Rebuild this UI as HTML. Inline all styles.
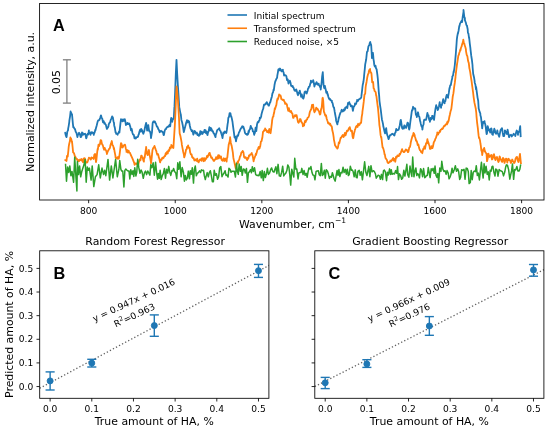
<!DOCTYPE html>
<html><head><meta charset="utf-8"><style>html,body{margin:0;padding:0;background:#fff;}svg{display:block;}</style></head>
<body><svg width="550" height="430" viewBox="0 0 550 430"><rect width="100%" height="100%" fill="#fff"/><polyline points="65.20,133.06 65.20,132.70 65.90,135.93 66.50,137.10 66.60,136.94 67.30,131.64 68.00,130.37 68.20,128.40 68.70,125.87 69.30,121.80 69.40,120.44 70.10,116.07 70.60,111.50 70.80,112.27 71.50,113.54 72.00,114.20 72.20,116.25 72.90,123.84 73.30,127.30 73.60,126.87 74.30,128.27 74.70,128.90 75.00,129.06 75.70,131.76 76.40,132.70 76.40,132.74 77.10,135.47 77.40,137.10 77.80,135.24 78.50,133.98 79.10,132.70 79.20,132.91 79.90,134.06 80.60,137.15 80.70,136.00 81.30,136.76 82.00,132.50 82.70,133.02 82.90,134.90 83.40,134.47 84.10,133.86 84.80,134.17 85.10,133.80 85.50,134.85 86.20,138.29 86.70,137.10 86.90,135.33 87.60,134.00 88.30,134.44 88.90,130.50 89.00,131.45 89.70,133.40 90.40,134.09 90.50,134.90 91.10,132.22 91.80,133.01 92.20,132.20 92.50,132.82 93.20,132.60 93.80,134.90 93.90,133.91 94.60,132.62 95.30,129.78 95.40,130.50 96.00,128.02 96.70,125.46 97.40,122.63 97.60,121.80 98.10,120.44 98.80,120.42 99.50,119.57 100.20,117.80 100.90,115.44 101.20,115.80 101.60,117.83 102.30,118.75 103.00,122.41 103.10,121.80 103.70,121.09 104.40,123.65 104.70,122.90 105.10,123.97 105.80,124.59 106.50,127.48 106.90,128.90 107.20,128.45 107.90,127.50 108.50,126.20 108.60,124.91 109.30,122.97 110.00,122.53 110.20,121.80 110.70,119.89 111.40,118.64 112.10,116.40 112.10,117.20 112.80,117.06 113.50,121.46 114.00,122.90 114.20,125.41 114.90,128.10 115.60,132.70 115.60,131.85 116.30,133.84 117.00,133.67 117.70,134.69 117.80,133.80 118.40,133.03 119.10,131.35 119.40,132.70 119.80,129.18 120.50,122.88 121.00,119.10 121.20,120.19 121.90,120.54 122.60,121.30 122.60,119.59 123.30,119.35 124.00,120.83 124.70,119.91 124.80,119.10 125.40,121.70 125.90,125.10 126.10,124.82 126.80,124.33 127.50,122.90 127.50,123.39 128.20,124.03 128.90,123.58 129.20,123.40 129.60,124.59 130.30,126.68 131.00,130.32 131.40,130.50 131.70,128.86 132.40,132.76 133.10,134.63 133.80,134.78 134.50,138.31 134.60,138.20 135.20,137.22 135.90,138.46 136.60,137.07 136.80,137.10 137.30,137.12 138.00,136.73 138.40,134.90 138.70,134.66 139.40,131.84 140.10,129.67 140.80,131.60 141.20,128.90 141.50,129.45 142.20,130.40 142.90,132.84 143.40,133.80 143.60,132.79 144.30,131.06 145.00,127.38 145.70,124.53 146.10,122.90 146.40,124.22 147.10,130.30 147.20,130.50 147.80,126.47 148.30,125.10 148.50,126.77 149.20,131.07 149.90,131.26 150.60,133.67 151.00,138.20 151.30,136.19 152.00,132.00 152.60,124.00 152.70,122.79 153.40,121.42 154.10,122.24 154.30,121.30 154.80,121.32 155.50,122.94 156.20,124.37 156.40,125.10 156.90,126.64 157.60,127.02 158.30,129.11 158.60,129.40 159.00,130.23 159.70,132.20 159.70,131.31 160.40,131.67 161.10,130.82 161.80,131.63 161.90,131.60 162.50,131.66 163.20,133.13 163.50,134.90 163.90,135.14 164.60,131.29 165.20,129.40 165.30,129.24 166.00,129.14 166.70,127.46 167.40,126.96 168.10,126.95 168.40,126.20 168.80,126.50 169.50,124.98 170.10,126.20 170.20,126.33 170.90,119.62 171.20,118.00 171.60,118.27 172.30,121.80 172.30,120.85 173.00,119.03 173.70,118.78 173.90,116.40 174.40,106.83 174.50,106.40 175.10,92.62 175.80,73.93 176.50,59.90 176.50,59.90 177.20,74.14 177.80,84.60 177.90,85.91 178.60,96.40 179.20,106.40 179.30,107.14 180.00,111.09 180.70,114.50 180.80,114.30 181.40,119.93 182.10,122.23 182.80,125.54 183.50,130.19 183.80,132.10 184.20,130.44 184.90,127.86 185.60,124.94 186.30,122.20 186.30,122.38 187.00,120.15 187.70,122.49 188.40,120.72 188.70,121.20 189.10,121.29 189.80,125.50 190.50,128.52 191.20,129.97 191.70,131.10 191.90,131.34 192.60,130.43 193.30,134.67 194.00,132.82 194.60,132.10 194.70,131.00 195.40,132.05 196.10,133.64 196.80,132.59 197.50,135.08 197.60,135.00 198.20,134.32 198.90,135.85 199.60,135.34 200.30,131.25 200.60,134.00 201.00,133.78 201.70,131.58 202.40,133.99 203.10,132.54 203.50,132.10 203.80,132.38 204.50,129.98 205.20,132.32 205.50,130.10 205.90,133.20 206.60,131.68 207.30,134.90 207.50,135.00 208.00,132.57 208.70,130.84 209.40,127.12 209.50,128.10 210.10,130.43 210.80,127.89 211.50,129.03 211.60,129.40 212.20,131.09 212.90,131.24 213.30,132.70 213.60,133.05 214.30,134.11 215.00,135.96 215.50,137.10 215.70,135.05 216.40,132.93 217.10,130.50 217.10,130.28 217.80,129.48 218.50,129.22 219.20,128.19 219.30,128.40 219.90,130.62 220.60,131.15 220.90,132.20 221.30,133.56 222.00,135.63 222.50,138.20 222.70,136.65 223.40,132.37 223.60,132.70 224.10,133.24 224.80,131.50 225.50,131.92 226.20,133.08 226.40,132.70 226.90,129.72 227.60,124.10 228.00,121.80 228.30,118.05 229.00,116.80 229.60,113.10 229.70,113.57 230.40,113.17 231.10,116.82 231.30,116.40 231.80,118.38 232.50,121.74 232.90,125.10 233.20,127.45 233.90,132.41 234.50,137.10 234.60,137.47 235.30,136.68 236.00,141.39 236.20,139.80 236.70,137.98 237.40,135.33 237.80,136.00 238.10,135.82 238.80,132.88 239.40,131.60 239.50,131.75 240.20,129.68 240.90,128.61 241.60,127.30 241.60,127.56 242.30,126.27 243.00,127.52 243.30,126.70 243.70,127.71 244.40,129.91 244.90,132.70 245.10,132.98 245.80,134.07 246.50,134.06 247.10,134.90 247.20,133.86 247.90,134.45 248.60,130.99 248.70,132.70 249.30,129.98 250.00,129.20 250.70,125.82 250.90,126.70 251.40,127.57 252.10,128.67 252.50,129.40 252.80,131.31 253.50,131.67 254.20,134.90 254.20,134.24 254.90,132.88 255.60,127.59 256.30,127.80 256.30,131.06 257.00,124.60 257.70,122.09 258.00,121.80 258.40,122.30 259.10,120.66 259.60,120.20 259.80,117.76 260.50,118.26 261.20,116.49 261.30,115.30 261.90,112.63 262.60,110.24 263.30,108.48 263.40,107.60 264.00,104.58 264.30,104.50 264.70,104.78 265.40,104.21 266.10,102.97 266.70,103.40 266.80,102.07 267.50,104.25 268.20,104.51 268.40,105.70 268.90,105.72 269.60,103.38 270.10,102.20 270.30,102.38 271.00,99.44 271.70,97.32 271.90,96.40 272.40,93.52 273.10,92.16 273.60,89.40 273.80,90.37 274.50,85.02 275.20,81.58 275.40,81.30 275.90,80.10 276.60,78.32 277.10,77.80 277.30,75.71 278.00,71.87 278.30,69.70 278.70,69.11 279.40,70.43 280.00,68.50 280.10,68.63 280.80,69.86 281.50,71.42 281.80,70.80 282.20,70.08 282.90,69.70 282.90,71.21 283.60,72.42 284.10,75.50 284.30,74.65 285.00,75.12 285.70,75.38 285.80,75.50 286.40,76.33 287.00,80.10 287.10,80.20 287.80,79.43 288.50,83.59 288.70,82.40 289.20,81.86 289.90,81.30 289.90,80.63 290.60,83.03 291.10,85.90 291.30,85.64 292.00,86.30 292.70,85.93 292.80,87.10 293.40,87.30 294.10,89.43 294.60,90.60 294.80,89.91 295.50,90.95 296.20,90.67 296.30,89.40 296.90,91.46 297.60,94.33 298.00,95.20 298.30,93.03 299.00,93.31 299.70,90.82 299.80,90.60 300.40,93.16 301.10,96.72 301.50,96.40 301.80,94.39 302.50,97.95 303.20,97.42 303.30,98.70 303.90,96.85 304.60,91.97 305.00,91.70 305.30,91.38 306.00,92.58 306.70,93.48 306.80,92.90 307.40,91.36 308.10,88.55 308.50,88.30 308.80,86.95 309.50,86.66 310.20,83.93 310.80,82.40 310.90,80.54 311.60,82.52 312.30,81.40 313.00,81.21 313.20,80.10 313.70,82.38 314.30,85.90 314.40,86.62 315.10,83.62 315.80,84.31 316.50,82.18 316.70,82.40 317.20,83.63 317.90,84.71 318.60,83.61 319.00,84.80 319.30,85.36 320.00,86.90 320.70,88.30 320.70,89.55 321.40,83.90 321.40,84.65 322.10,76.72 322.80,72.10 322.80,72.58 323.50,83.90 323.50,84.68 324.20,88.00 324.90,85.87 325.60,89.50 325.60,88.94 326.30,92.77 327.00,91.81 327.70,95.10 327.70,93.84 328.40,97.04 329.10,98.97 329.80,99.30 329.80,98.60 330.50,100.33 331.20,100.36 331.90,100.70 331.90,102.29 332.60,103.15 333.30,106.64 333.90,107.70 334.00,107.28 334.70,111.73 335.40,115.53 336.00,118.80 336.10,120.40 336.80,122.61 337.40,124.40 337.50,123.11 338.20,121.12 338.80,117.40 338.90,117.94 339.60,115.15 340.30,113.13 340.90,111.80 341.00,111.56 341.70,109.75 342.40,111.50 343.00,111.10 343.10,111.25 343.80,109.43 344.50,110.45 345.10,109.10 345.20,107.53 345.90,107.45 346.60,106.60 347.20,106.30 347.30,108.19 348.00,103.02 348.70,103.89 349.30,102.10 349.40,103.29 350.10,104.10 350.80,106.34 351.40,106.30 351.50,105.54 352.20,106.25 352.80,110.40 352.90,110.94 353.60,107.05 354.30,106.13 354.90,104.90 355.00,103.46 355.70,104.40 356.40,102.81 357.00,100.70 357.10,99.88 357.80,101.12 358.50,99.83 359.10,99.30 359.20,99.08 359.90,98.80 360.60,98.04 361.10,97.90 361.30,96.95 362.00,91.03 362.50,86.70 362.70,85.07 363.40,82.06 364.00,77.20 364.10,75.49 364.80,68.97 365.20,64.40 365.50,62.82 366.20,59.22 366.90,52.42 367.10,51.60 367.60,51.47 368.30,47.08 368.40,46.50 369.00,45.43 369.30,45.20 369.70,43.21 370.30,42.00 370.40,42.97 371.10,44.90 371.20,45.20 371.80,55.01 371.90,58.00 372.50,53.76 372.90,52.90 373.20,55.52 373.50,59.30 373.90,61.50 374.20,64.40 374.60,65.94 375.30,66.94 375.50,65.70 376.00,68.20 376.70,69.50 376.70,69.88 377.40,74.78 377.80,78.50 378.10,82.35 378.80,92.07 379.20,96.20 379.50,101.12 380.20,106.09 380.60,108.70 380.90,110.81 381.60,116.74 382.00,119.90 382.30,120.87 383.00,124.01 383.40,126.80 383.70,127.81 384.40,131.01 384.80,132.40 385.10,133.43 385.80,129.45 386.20,128.20 386.50,131.10 387.20,134.96 387.90,136.61 388.20,138.00 388.60,139.15 389.30,137.28 390.00,135.16 390.30,135.20 390.70,135.21 391.40,134.49 392.10,133.76 392.40,133.80 392.80,133.86 393.50,134.68 394.20,135.46 394.50,135.20 394.90,133.20 395.60,132.26 396.30,128.80 396.60,129.60 397.00,129.87 397.70,130.25 398.40,129.77 398.70,129.60 399.10,128.05 399.80,125.14 400.50,120.59 400.80,119.90 401.20,122.02 401.90,126.96 402.20,128.20 402.60,128.72 403.30,127.15 404.00,128.48 404.30,125.40 404.70,125.57 405.40,127.18 406.10,127.93 406.40,126.80 406.80,125.49 407.50,122.72 407.80,122.70 408.20,123.43 408.90,128.29 409.20,129.60 409.60,127.99 410.30,122.26 410.60,119.90 411.00,117.28 411.70,111.80 412.00,110.10 412.40,110.29 413.10,106.76 413.80,108.54 414.10,108.00 414.50,108.68 415.20,108.34 415.40,110.10 415.90,114.88 416.60,114.64 416.80,117.10 417.30,114.47 418.00,112.24 418.20,112.90 418.70,116.07 419.40,116.77 420.10,121.20 420.30,121.30 420.80,123.89 421.50,126.32 422.20,127.44 422.40,129.60 422.90,125.99 423.60,124.24 423.80,121.30 424.30,119.61 425.00,119.63 425.70,119.86 425.90,119.90 426.40,118.45 427.10,114.64 427.40,113.00 427.80,115.04 428.50,115.35 428.70,117.10 429.20,119.80 429.90,121.20 429.90,121.80 430.60,117.81 431.30,119.38 432.00,118.45 432.10,115.80 432.70,115.79 433.40,117.59 434.10,119.93 434.20,118.60 434.80,113.44 435.50,108.71 436.20,105.24 436.30,106.00 436.90,107.20 437.60,109.29 437.70,110.20 438.30,108.84 439.00,106.15 439.70,102.22 439.80,103.20 440.40,105.00 441.10,107.77 441.20,106.00 441.80,105.19 442.50,102.56 443.20,99.10 443.20,99.12 443.90,102.18 444.60,103.20 444.60,102.19 445.30,101.22 446.00,97.58 446.70,94.90 446.70,96.09 447.40,96.79 448.10,97.70 448.10,96.56 448.80,92.93 449.50,87.90 449.50,89.18 450.20,85.31 450.90,85.10 450.90,84.51 451.60,80.79 452.30,78.10 452.30,76.53 453.00,75.66 453.70,71.20 453.70,72.58 454.40,68.09 454.80,65.00 455.10,61.89 455.80,53.80 455.80,53.75 456.50,44.32 456.80,39.90 457.20,36.59 457.90,32.90 457.90,33.84 458.60,30.50 459.30,25.90 459.30,26.88 460.00,23.59 460.70,22.40 460.70,22.48 461.40,21.18 462.10,20.30 462.10,22.18 462.80,16.20 462.80,16.39 463.50,12.00 463.50,10.02 464.20,16.20 464.20,16.62 464.90,18.20 464.90,20.18 465.60,22.04 466.00,23.10 466.30,24.86 467.00,25.90 467.00,25.94 467.70,29.27 467.90,32.90 468.40,33.33 469.10,38.50 469.10,37.19 469.80,43.59 470.40,48.20 470.50,49.34 471.20,55.46 471.60,58.00 471.90,59.98 472.50,65.00 472.60,67.29 473.20,74.00 473.30,74.20 474.00,77.20 474.60,80.90 474.70,82.39 475.40,84.74 476.00,89.30 476.10,86.93 476.80,92.19 477.40,96.30 477.50,97.35 478.20,100.70 478.70,108.70 478.90,109.10 479.60,111.85 480.30,113.41 480.40,115.30 481.00,117.29 481.50,121.80 481.70,123.20 482.20,128.40 482.40,126.36 483.10,121.80 483.10,123.12 483.80,122.67 484.50,121.10 484.70,122.90 485.20,124.00 485.80,127.30 485.90,128.63 486.60,134.02 486.90,133.80 487.30,130.41 487.70,126.20 488.00,127.21 488.70,130.44 489.10,129.40 489.40,130.28 490.10,132.08 490.20,132.70 490.80,128.87 491.30,128.40 491.50,128.67 492.20,134.34 492.90,134.90 492.90,133.41 493.60,132.51 494.30,128.61 494.50,129.40 495.00,130.83 495.70,133.44 496.20,133.80 496.40,132.94 497.10,131.87 497.30,130.50 497.80,132.98 498.50,135.09 498.90,136.00 499.20,136.77 499.90,133.38 500.50,130.50 500.60,130.09 501.30,129.03 502.00,128.20 502.20,128.90 502.70,132.63 503.30,136.00 503.40,135.32 504.10,136.12 504.80,132.78 504.90,130.50 505.50,131.10 506.20,131.94 506.50,132.70 506.90,134.07 507.60,131.60 507.60,129.62 508.30,133.39 509.00,137.13 509.30,137.10 509.70,135.59 510.40,135.09 510.90,134.90 511.10,134.73 511.80,136.49 512.00,136.00 512.50,135.46 513.20,134.77 513.60,133.80 513.90,134.62 514.60,134.48 515.30,134.90 515.30,136.07 516.00,132.69 516.70,130.50 516.90,131.60 517.40,131.23 518.00,134.90 518.10,132.90 518.80,131.92 519.10,131.60 519.50,130.72 520.20,126.20 520.20,126.38 520.70,137.10" fill="none" stroke="#1f77b4" stroke-width="1.8" stroke-linejoin="round" stroke-linecap="butt"/>
<polyline points="64.90,160.60 64.90,160.40 65.60,160.11 66.30,160.49 66.50,161.00 67.00,155.94 67.60,155.50 67.70,156.60 68.40,150.37 68.70,146.80 69.10,144.27 69.80,141.59 70.40,137.50 70.50,138.04 71.20,138.87 71.90,142.18 72.00,141.40 72.60,147.02 73.10,152.30 73.30,152.35 74.00,153.27 74.70,155.50 74.70,155.98 75.40,156.75 76.10,158.79 76.40,158.80 76.80,158.71 77.50,160.45 78.00,161.00 78.20,159.92 78.90,161.23 79.60,160.03 80.20,159.40 80.30,159.79 81.00,160.19 81.70,159.02 82.40,160.40 82.40,161.22 83.10,162.39 83.80,158.35 84.50,159.90 84.50,158.08 85.20,159.18 85.90,162.50 86.60,162.61 86.70,162.60 87.30,162.40 88.00,160.46 88.70,158.37 88.90,157.70 89.40,158.25 90.10,158.12 90.80,159.56 91.10,158.80 91.50,157.41 92.20,157.81 92.90,158.16 93.30,157.70 93.60,158.97 94.30,154.83 94.90,154.40 95.00,153.97 95.70,159.41 96.00,162.10 96.40,159.84 97.10,152.85 97.60,149.00 97.80,149.87 98.50,144.70 99.20,146.04 99.30,144.60 99.90,144.33 100.60,140.17 101.20,140.30 101.30,140.78 102.00,144.10 102.70,145.13 103.10,146.30 103.40,147.65 104.10,149.79 104.70,147.90 104.80,148.44 105.50,149.61 106.20,150.84 106.90,153.40 106.90,154.08 107.60,151.75 108.30,150.32 108.50,150.10 109.00,149.02 109.70,148.45 110.20,146.80 110.40,145.28 111.10,143.39 111.80,141.04 112.10,143.00 112.50,145.29 113.20,145.91 113.90,149.23 114.00,147.90 114.60,151.57 115.30,155.08 115.60,157.70 116.00,158.40 116.70,158.17 117.40,157.28 117.80,158.80 118.10,157.25 118.80,158.59 119.40,155.50 119.50,155.10 120.20,149.74 120.90,143.58 121.00,143.10 121.60,143.99 122.30,147.53 122.60,147.40 123.00,146.80 123.70,145.25 124.40,145.05 124.80,144.70 125.10,144.81 125.80,148.43 126.50,150.70 126.50,151.89 127.20,150.02 127.90,152.60 128.60,151.30 128.60,150.60 129.30,152.69 130.00,152.87 130.70,154.74 131.40,156.20 131.40,156.25 132.10,157.65 132.80,159.27 133.50,161.20 134.20,162.95 134.60,164.90 134.90,163.02 135.60,163.84 136.30,163.99 137.00,163.97 137.40,162.70 137.70,163.07 138.40,164.23 139.10,161.25 139.50,160.50 139.80,159.35 140.50,160.24 141.20,155.61 141.70,155.60 141.90,157.16 142.60,157.05 143.30,160.34 143.90,161.60 144.00,158.92 144.70,157.60 145.40,152.16 146.10,148.00 146.10,146.98 146.80,152.87 147.50,155.02 147.70,155.10 148.20,152.92 148.80,150.20 148.90,149.99 149.60,154.70 150.30,158.55 151.00,162.70 151.00,163.46 151.70,157.81 152.40,150.54 152.60,149.60 153.10,148.23 153.80,147.14 154.30,146.90 154.50,145.90 155.20,148.16 155.90,150.16 156.40,151.30 156.60,152.47 157.30,154.69 158.00,154.01 158.60,156.20 158.70,157.17 159.40,158.86 159.70,160.50 160.10,162.42 160.80,159.75 161.50,159.88 162.20,157.93 162.90,157.61 163.00,158.40 163.60,157.85 164.30,156.34 165.00,156.23 165.20,155.60 165.70,153.18 166.40,154.43 167.10,151.71 167.80,153.37 168.10,151.10 168.50,150.30 169.20,150.89 169.90,147.40 170.60,148.00 170.60,148.45 171.30,145.90 171.30,144.97 172.00,146.09 172.70,147.33 173.40,148.00 173.40,147.67 174.10,136.81 174.80,125.86 175.00,121.80 175.50,110.65 176.20,93.31 176.50,86.30 176.90,88.76 177.60,96.16 178.00,100.90 178.30,106.58 179.00,118.30 179.60,132.30 179.70,133.59 180.40,136.05 181.10,139.54 181.70,142.80 181.80,144.38 182.50,148.17 183.20,151.79 183.90,154.60 184.20,157.40 184.60,156.23 185.30,153.64 186.00,149.72 186.70,149.12 187.00,146.90 187.40,147.64 188.10,145.41 188.80,147.97 189.10,148.00 189.50,147.88 190.20,152.53 190.90,154.31 191.60,154.42 192.20,157.40 192.30,156.54 193.00,158.05 193.70,158.17 194.40,160.49 195.10,160.14 195.30,159.50 195.80,159.53 196.50,160.89 197.20,158.61 197.90,161.53 198.50,161.60 198.60,162.41 199.30,160.61 200.00,159.35 200.70,159.99 201.40,160.76 201.60,158.50 202.10,159.04 202.80,158.10 203.50,161.24 204.20,158.20 204.70,160.50 204.90,160.70 205.60,158.43 206.30,158.88 207.00,155.87 207.70,157.02 207.90,155.30 208.40,155.52 209.10,153.26 209.80,152.87 210.00,154.90 210.50,155.24 211.20,157.88 211.70,157.20 211.90,157.72 212.60,159.02 213.30,160.06 213.50,160.70 214.00,160.97 214.70,159.90 215.40,159.09 215.80,158.40 216.10,157.17 216.80,158.98 217.50,158.70 217.60,157.20 218.20,155.23 218.90,158.32 219.30,155.50 219.60,156.77 220.30,156.69 221.00,158.40 221.00,156.40 221.70,159.98 222.40,160.77 222.80,160.70 223.10,159.92 223.80,158.30 224.50,160.99 225.10,159.50 225.20,158.82 225.90,158.52 226.60,161.57 226.90,158.40 227.30,157.62 228.00,151.12 228.60,145.60 228.70,144.66 229.40,142.62 230.00,139.20 230.10,137.23 230.80,142.73 231.50,145.60 231.50,144.80 232.20,148.76 232.90,152.96 233.30,157.20 233.60,159.12 234.30,161.86 235.00,165.13 235.60,167.70 235.70,168.38 236.40,165.18 237.10,163.34 237.80,161.34 237.90,163.00 238.50,160.82 239.20,159.84 239.90,156.76 240.20,156.00 240.60,155.91 241.30,152.65 242.00,152.06 242.60,151.40 242.70,150.85 243.40,152.11 244.10,157.14 244.80,157.84 244.90,157.20 245.50,157.16 246.20,158.03 246.90,159.66 247.20,160.10 247.60,157.87 248.30,158.60 249.00,155.53 249.50,156.00 249.70,155.47 250.40,154.29 251.10,154.36 251.80,152.97 251.90,154.30 252.50,155.12 253.20,158.64 253.60,161.30 253.90,159.59 254.60,157.69 255.30,155.76 255.90,153.70 256.00,155.06 256.70,152.62 257.40,149.81 258.10,149.15 258.30,147.90 258.80,146.82 259.50,148.57 260.00,146.70 260.20,146.47 260.90,141.64 261.60,141.02 262.30,137.40 262.30,138.26 263.00,131.90 263.70,131.25 264.10,130.50 264.40,129.97 265.00,130.40 265.10,128.44 265.80,129.81 266.50,130.40 267.10,131.80 267.20,132.20 267.90,131.09 268.60,132.63 269.20,129.10 269.30,128.98 270.00,132.65 270.60,133.20 270.70,132.49 271.40,127.14 272.00,122.10 272.10,120.48 272.80,116.89 273.40,116.50 273.50,115.09 274.20,112.50 274.80,108.10 274.90,109.56 275.60,107.13 276.20,105.30 276.30,105.33 277.00,100.48 277.60,98.40 277.70,99.76 278.40,97.81 279.00,94.90 279.10,94.45 279.80,95.69 280.50,95.43 281.00,97.00 281.20,98.94 281.90,99.23 282.40,99.80 282.60,99.70 283.30,100.23 283.80,99.80 284.00,100.85 284.70,102.00 285.20,103.90 285.40,102.86 286.10,103.75 286.80,104.21 287.30,106.70 287.50,107.58 288.20,110.83 288.90,108.12 289.40,110.90 289.60,111.18 290.30,111.93 291.00,110.93 291.50,112.30 291.70,113.05 292.40,113.55 293.10,117.83 293.60,117.90 293.80,116.88 294.50,116.21 295.00,115.10 295.20,116.02 295.90,115.55 296.40,116.50 296.60,115.22 297.30,118.64 298.00,122.10 298.50,122.80 298.70,122.38 299.40,121.54 300.10,119.00 300.60,119.30 300.80,119.92 301.50,122.16 302.20,123.07 302.70,124.20 302.90,126.40 303.60,124.88 304.10,125.60 304.30,123.86 305.00,120.99 305.40,121.40 305.70,122.11 306.40,119.67 307.10,119.63 307.50,117.90 307.80,117.68 308.50,117.27 309.20,115.26 309.60,113.00 309.90,111.70 310.60,110.29 311.30,109.04 311.70,106.70 312.00,104.95 312.70,106.72 313.10,104.60 313.40,107.52 314.10,111.13 314.50,112.30 314.80,111.49 315.50,110.62 316.20,107.73 316.60,108.10 316.90,108.56 317.60,108.82 318.30,110.46 318.70,110.90 319.00,111.21 319.70,113.97 320.00,114.50 320.40,114.17 321.10,108.80 321.40,109.00 321.80,106.77 322.50,98.11 322.80,97.80 323.20,100.59 323.90,111.70 323.90,111.57 324.60,113.44 325.30,115.62 325.60,115.90 326.00,115.24 326.70,118.77 327.40,120.83 327.70,121.50 328.10,123.35 328.80,122.86 329.50,124.46 329.80,124.30 330.20,123.81 330.90,125.57 331.60,126.23 331.90,127.10 332.30,130.34 333.00,132.94 333.70,137.47 333.90,139.60 334.40,141.87 335.10,145.48 335.80,146.34 336.00,146.60 336.50,147.67 337.20,148.04 337.40,148.70 337.90,147.59 338.60,143.87 338.80,142.40 339.30,143.22 340.00,140.35 340.70,137.60 340.90,138.20 341.40,137.10 342.10,135.96 342.80,134.99 343.00,136.10 343.50,136.95 344.20,135.80 344.90,132.99 345.10,134.10 345.60,135.30 346.30,132.76 347.00,130.56 347.20,131.30 347.70,131.04 348.40,129.63 349.10,127.96 349.30,128.50 349.80,127.13 350.50,130.14 351.20,131.34 351.40,131.30 351.90,130.62 352.60,136.75 353.10,138.20 353.30,137.93 354.00,133.56 354.70,130.94 354.90,129.90 355.40,128.61 356.10,126.62 356.80,125.72 357.00,125.70 357.50,126.95 358.20,123.78 358.90,125.32 359.10,125.00 359.60,124.67 360.30,123.00 361.00,122.54 361.10,122.90 361.70,116.83 362.30,113.70 362.40,111.95 363.10,106.85 363.80,101.16 364.00,99.10 364.50,94.59 365.20,93.76 365.60,87.70 365.90,85.26 366.60,81.71 367.20,77.90 367.30,77.25 368.00,74.23 368.70,73.17 368.80,71.40 369.40,69.79 370.10,69.00 370.10,70.40 370.80,72.53 371.30,73.00 371.50,73.95 372.10,81.20 372.20,82.43 372.90,81.68 373.20,82.80 373.60,88.17 374.30,89.25 374.50,90.90 375.00,91.35 375.70,92.35 376.20,95.80 376.40,95.87 377.10,101.60 377.80,107.20 377.80,106.15 378.50,113.74 379.20,122.13 379.40,125.10 379.90,128.44 380.60,135.16 381.20,137.90 381.30,136.81 382.00,142.92 382.60,147.70 382.70,147.04 383.40,148.87 384.10,151.55 384.60,154.60 384.80,154.25 385.50,158.05 386.00,158.80 386.20,159.00 386.90,160.04 387.60,162.64 388.10,163.00 388.30,163.16 389.00,162.17 389.70,162.34 390.20,161.60 390.40,160.53 391.10,161.36 391.80,160.49 392.30,159.50 392.50,159.02 393.20,157.99 393.90,160.70 394.60,159.02 395.10,158.80 395.30,161.74 396.00,156.91 396.70,157.56 397.20,156.00 397.40,155.44 398.10,155.82 398.80,156.08 399.50,154.01 400.00,154.60 400.20,153.97 400.90,152.41 401.60,150.53 402.10,149.10 402.30,149.98 403.00,151.33 403.70,152.03 404.20,151.80 404.40,151.94 405.10,150.84 405.80,149.55 406.30,150.40 406.50,149.76 407.20,150.45 407.90,152.18 408.40,151.80 408.60,150.73 409.30,147.39 410.00,146.94 410.40,144.90 410.70,142.76 411.40,139.76 412.10,137.30 412.50,135.80 412.80,136.20 413.50,132.93 414.20,134.06 414.60,135.10 414.90,136.48 415.60,138.72 416.00,140.70 416.30,140.29 417.00,141.80 417.70,144.99 418.10,144.20 418.40,144.61 419.10,147.90 419.80,150.05 420.20,150.40 420.50,150.33 421.20,152.20 421.90,152.19 422.30,153.20 422.60,151.57 423.30,148.73 424.00,148.53 424.40,146.30 424.70,147.18 425.00,148.90 425.40,146.69 426.10,143.22 426.80,143.45 427.40,139.10 427.50,140.27 428.20,142.10 428.90,144.25 429.60,146.12 429.90,148.90 430.30,148.92 431.00,148.42 431.70,146.15 432.30,147.20 432.40,148.16 433.10,145.93 433.80,142.29 434.50,140.90 434.80,140.70 435.20,139.17 435.90,137.89 436.60,135.67 437.20,134.20 437.30,132.35 438.00,134.69 438.70,132.55 439.40,132.62 439.70,130.90 440.10,131.82 440.80,129.58 441.50,129.46 442.10,128.50 442.20,129.17 442.90,128.51 443.60,126.83 444.30,125.65 444.50,126.10 445.00,125.80 445.70,124.44 446.40,124.22 447.00,124.40 447.10,122.07 447.80,122.89 448.50,120.32 448.60,121.20 449.20,117.54 449.90,114.48 450.20,113.00 450.60,111.17 451.30,109.06 452.00,103.30 452.00,103.51 452.70,96.79 453.40,93.39 453.70,91.10 454.10,87.36 454.80,82.96 455.50,77.10 455.50,76.38 456.20,70.63 456.90,65.12 457.20,63.20 457.60,60.59 458.30,55.91 459.00,54.40 459.00,53.70 459.70,51.79 460.40,49.20 460.40,50.46 461.10,47.38 461.60,46.60 461.80,45.43 462.50,43.10 462.50,43.71 463.20,40.60 463.30,39.60 463.90,43.48 464.50,44.00 464.60,44.99 465.30,46.95 465.90,49.20 466.00,51.11 466.70,54.81 467.30,56.20 467.40,56.28 468.10,61.01 468.80,63.15 469.40,68.40 469.50,68.60 470.20,72.14 470.90,76.93 471.20,78.90 471.60,81.26 472.30,86.62 472.90,91.10 473.00,91.74 473.70,97.62 474.30,101.60 474.40,102.41 475.10,105.57 475.80,108.80 476.30,113.00 476.50,116.30 477.20,123.49 477.90,128.52 478.00,130.00 478.60,135.39 479.00,138.00 479.30,137.60 480.00,140.36 480.50,144.00 480.70,144.92 481.40,150.95 481.50,150.00 482.10,153.19 482.20,155.00 482.80,151.35 483.50,149.00 483.50,150.69 484.20,147.95 484.90,151.55 485.00,151.00 485.60,152.71 486.30,153.38 486.50,154.00 487.00,161.00 487.00,161.20 487.70,158.85 488.00,154.00 488.40,153.62 489.10,155.87 489.50,157.00 489.80,156.55 490.50,155.61 491.00,156.00 491.20,154.99 491.90,159.47 492.50,159.00 492.60,158.96 493.30,155.02 494.00,155.00 494.00,154.26 494.70,157.76 495.40,160.09 495.50,160.00 496.10,157.29 496.80,157.30 497.00,157.00 497.50,158.94 498.20,161.41 498.50,162.00 498.90,161.08 499.60,156.42 500.00,157.00 500.30,159.54 501.00,159.22 501.50,160.00 501.70,161.63 502.40,161.81 503.00,158.00 503.10,158.10 503.80,158.84 504.50,162.00 504.50,162.91 505.20,160.41 505.90,158.73 506.00,159.00 506.60,158.72 507.30,162.51 507.50,161.00 508.00,160.20 508.70,158.73 509.00,160.00 509.40,160.13 510.10,160.43 510.80,162.87 511.00,163.00 511.50,161.56 512.20,159.49 512.50,160.00 512.90,161.43 513.60,161.52 514.00,163.00 514.30,162.96 515.00,161.66 515.50,159.00 515.70,158.35 516.40,157.12 517.00,157.00 517.10,157.54 517.80,160.60 518.50,162.00 518.50,162.00 519.20,158.41 519.90,154.51 520.00,154.00 520.60,160.33 521.00,164.00" fill="none" stroke="#ff7f0e" stroke-width="1.8" stroke-linejoin="round" stroke-linecap="butt"/>
<polyline points="65.50,163.70 66.50,181.20 67.60,167.00 68.70,172.40 69.80,165.90 70.90,175.70 72.00,171.40 73.60,182.30 74.70,157.20 75.80,174.60 76.90,191.00 77.40,161.50 78.50,174.60 79.60,165.90 80.70,176.80 81.80,171.40 82.90,168.10 84.00,164.80 85.10,159.40 86.20,182.30 87.30,167.00 88.40,170.30 89.40,168.10 91.10,180.10 92.20,165.90 93.80,186.60 95.40,176.80 97.10,174.60 98.70,164.80 100.30,177.90 102.00,168.10 103.60,174.60 104.70,170.30 105.80,175.70 108.00,159.40 109.60,180.10 111.30,165.90 112.90,177.90 114.50,167.00 115.60,159.40 117.30,176.80 118.90,169.20 119.74,160.50 120.90,169.45 121.74,171.03 122.76,170.96 123.89,186.95 124.86,170.41 125.86,168.99 126.99,170.24 127.92,170.93 129.03,171.10 129.83,178.96 130.77,169.73 131.97,174.43 132.98,170.79 133.79,176.51 134.76,167.72 135.86,175.97 136.75,172.41 137.69,159.27 138.81,167.68 139.98,173.24 141.09,170.00 142.08,172.12 143.28,178.33 144.46,172.87 145.48,171.08 146.59,174.63 147.78,171.03 148.84,173.03 149.91,175.11 150.79,164.63 151.93,167.66 153.15,162.85 154.33,175.19 155.56,162.29 156.72,173.48 157.54,179.16 158.38,173.60 159.28,178.33 160.13,170.32 161.16,179.57 162.39,175.39 163.29,173.57 164.40,168.40 165.51,178.17 166.57,169.32 167.68,173.01 168.73,166.38 169.75,171.98 170.76,175.41 171.91,170.57 172.72,170.90 173.61,168.42 174.59,171.50 175.80,173.01 176.76,178.74 177.77,162.82 178.82,169.26 179.87,161.74 181.10,176.80 182.23,167.60 183.40,172.19 184.42,181.22 185.34,175.45 186.28,179.92 187.34,178.16 188.34,171.13 189.46,178.77 190.33,170.63 191.32,174.18 192.27,167.81 193.49,183.08 194.35,169.50 195.30,165.99 196.35,175.83 197.20,173.50 198.30,172.62 199.55,170.80 200.59,172.50 201.42,169.86 202.30,170.50 203.52,170.17 204.32,175.66 205.31,179.63 206.22,175.86 207.20,172.61 208.32,176.87 209.28,172.70 210.31,170.73 211.34,175.60 212.34,181.72 213.39,181.79 214.19,170.28 215.34,175.31 216.39,173.71 217.59,179.27 218.63,176.71 219.73,167.68 220.83,166.64 221.99,176.64 222.80,174.81 223.98,173.22 225.07,170.76 226.03,175.42 226.87,174.94 228.06,177.07 228.93,168.30 230.13,169.48 231.05,172.19 232.15,171.15 233.17,171.15 234.29,171.29 235.45,177.04 236.45,163.22 237.38,171.43 238.27,174.39 239.15,164.05 240.35,171.33 241.21,166.46 242.20,175.31 243.33,169.04 244.42,169.45 245.38,172.94 246.44,168.45 247.47,182.33 248.46,172.57 249.35,171.82 250.53,169.61 251.44,172.72 252.33,166.71 253.35,171.45 254.54,167.79 255.71,174.54 256.91,175.39 257.97,175.22 258.99,175.76 260.20,171.55 261.30,177.79 262.16,170.40 263.32,180.55 264.35,171.58 265.38,177.50 266.52,173.65 267.41,168.34 268.44,174.41 269.59,172.92 270.72,169.45 271.62,167.98 272.87,171.63 273.98,172.20 274.88,169.42 275.86,166.82 276.87,173.65 278.09,164.37 279.32,175.87 280.54,176.21 281.67,172.15 282.67,166.14 283.75,175.96 284.62,174.46 285.70,173.35 286.87,170.53 287.78,164.93 288.88,167.02 289.79,175.02 290.70,185.11 291.77,169.15 292.88,173.61 293.83,176.96 294.74,158.24 295.87,169.22 296.82,169.08 298.06,178.97 298.89,172.92 299.91,172.52 301.00,172.46 301.83,168.37 303.06,174.60 304.07,170.49 305.13,175.31 306.17,173.30 307.20,177.26 308.08,171.58 308.94,167.99 310.06,168.93 310.92,166.52 312.07,172.80 312.90,175.00 314.05,175.39 314.94,179.82 316.09,171.47 317.13,170.90 318.37,170.79 319.21,174.61 320.28,175.66 321.36,163.41 322.29,175.55 323.21,174.50 324.39,170.29 325.28,178.13 326.26,169.78 327.50,171.31 328.39,174.08 329.42,178.43 330.37,176.41 331.48,177.20 332.39,172.66 333.21,175.49 334.04,178.75 335.19,181.11 336.21,175.17 337.10,170.46 337.99,175.37 338.94,169.57 339.86,176.59 340.97,172.45 342.00,172.90 343.06,167.26 344.12,172.56 345.35,169.36 346.32,174.17 347.29,169.23 348.39,175.61 349.23,174.45 350.31,166.26 351.46,170.17 352.34,170.00 353.17,171.76 354.19,176.75 355.26,169.88 356.18,177.26 357.14,177.79 357.94,171.29 359.16,170.23 360.21,175.26 361.32,171.63 362.41,179.80 363.44,171.55 364.63,161.73 365.77,171.97 366.93,175.54 367.90,171.03 368.77,166.38 369.90,176.75 370.97,165.66 372.07,171.86 373.29,170.67 374.27,171.36 375.38,173.73 376.24,178.18 377.06,176.85 378.19,175.18 379.43,175.87 380.41,179.28 381.44,174.37 382.59,179.57 383.46,170.79 384.32,170.02 385.36,171.97 386.53,180.65 387.41,172.17 388.32,175.03 389.57,168.88 390.43,174.46 391.24,169.75 392.07,174.30 393.30,173.45 394.52,174.00 395.65,170.60 396.74,173.33 397.55,166.53 398.48,179.62 399.52,173.79 400.61,175.53 401.62,179.26 402.79,177.69 403.82,170.25 404.91,176.04 405.91,170.31 406.85,164.28 407.70,174.60 408.89,177.24 410.01,165.99 410.83,171.67 411.85,176.41 412.70,157.01 413.93,176.78 414.97,171.02 415.88,168.02 416.80,175.56 417.68,173.78 418.50,174.31 419.45,177.87 420.58,168.67 421.47,170.09 422.56,176.73 423.57,168.47 424.74,177.70 425.69,176.91 426.56,175.45 427.38,175.49 428.25,167.55 429.13,172.06 430.12,177.55 431.17,168.80 432.00,170.60 433.10,168.33 434.22,173.31 435.03,166.01 435.96,175.11 436.98,177.36 437.81,173.52 438.68,182.86 439.79,167.96 440.99,171.29 441.79,161.36 442.89,169.13 443.92,171.39 444.99,170.67 446.16,174.40 447.01,170.56 448.18,173.18 449.06,178.86 450.25,176.56 451.07,174.03 452.07,168.23 452.95,172.85 454.15,170.02 455.36,165.71 456.49,171.29 457.72,168.85 458.63,171.38 459.66,179.49 460.60,177.53 461.62,169.73 462.81,170.43 464.06,169.37 465.00,179.30 466.18,168.12 467.27,168.45 468.28,171.50 469.12,183.58 470.33,182.50 471.19,170.52 472.22,179.76 473.26,172.34 474.36,171.10 475.43,171.61 476.27,165.67 477.36,175.59 478.34,173.15 479.41,179.93 480.33,171.35 481.43,162.27 482.29,171.38 483.16,178.06 484.09,163.76 485.01,172.92 486.10,166.23 487.22,174.47 488.29,171.90 489.23,179.98 490.19,170.36 491.04,171.29 492.01,166.69 492.85,166.18 493.99,172.61 495.00,175.99 495.84,168.92 497.04,170.14 497.98,176.16 499.13,169.56 499.96,170.35 501.19,171.02 502.34,171.59 503.53,175.89 504.75,172.03 505.66,167.08 506.46,164.87 507.45,165.27 508.61,169.58 509.80,179.13 510.67,174.96 511.59,170.90 512.47,163.90 513.62,179.33 514.60,169.60 515.66,170.05 516.87,166.54 517.87,170.89 518.99,171.07 519.83,169.28 520.70,164.30" fill="none" stroke="#2ca02c" stroke-width="1.5" stroke-linejoin="round" stroke-linecap="butt"/>
<rect x="39.6" y="3.45" width="504.4" height="196.55" fill="none" stroke="#000" stroke-width="0.85"/>
<line x1="88.65" y1="200.00" x2="88.65" y2="203.20" stroke="#000" stroke-width="0.85" />
<text x="88.65" y="213.80" font-size="9.1" text-anchor="middle" font-weight="normal" font-family="'DejaVu Sans', 'Liberation Sans', sans-serif" fill="#000">800</text>
<line x1="175.24" y1="200.00" x2="175.24" y2="203.20" stroke="#000" stroke-width="0.85" />
<text x="175.24" y="213.80" font-size="9.1" text-anchor="middle" font-weight="normal" font-family="'DejaVu Sans', 'Liberation Sans', sans-serif" fill="#000">1000</text>
<line x1="261.83" y1="200.00" x2="261.83" y2="203.20" stroke="#000" stroke-width="0.85" />
<text x="261.83" y="213.80" font-size="9.1" text-anchor="middle" font-weight="normal" font-family="'DejaVu Sans', 'Liberation Sans', sans-serif" fill="#000">1200</text>
<line x1="348.42" y1="200.00" x2="348.42" y2="203.20" stroke="#000" stroke-width="0.85" />
<text x="348.42" y="213.80" font-size="9.1" text-anchor="middle" font-weight="normal" font-family="'DejaVu Sans', 'Liberation Sans', sans-serif" fill="#000">1400</text>
<line x1="435.01" y1="200.00" x2="435.01" y2="203.20" stroke="#000" stroke-width="0.85" />
<text x="435.01" y="213.80" font-size="9.1" text-anchor="middle" font-weight="normal" font-family="'DejaVu Sans', 'Liberation Sans', sans-serif" fill="#000">1600</text>
<line x1="521.60" y1="200.00" x2="521.60" y2="203.20" stroke="#000" stroke-width="0.85" />
<text x="521.60" y="213.80" font-size="9.1" text-anchor="middle" font-weight="normal" font-family="'DejaVu Sans', 'Liberation Sans', sans-serif" fill="#000">1800</text>
<text x="239.0" y="227.5" font-size="10.9" font-family="'DejaVu Sans', 'Liberation Sans', sans-serif" fill="#000">Wavenumber, cm<tspan font-size="7.6" dy="-4.3">−1</tspan></text>
<text x="34.10" y="101.90" font-size="10.9" text-anchor="middle" font-weight="normal" font-family="'DejaVu Sans', 'Liberation Sans', sans-serif" fill="#000" transform="rotate(-90 34.10 101.90)">Normalized intensity, a.u.</text>
<line x1="66.90" y1="59.80" x2="66.90" y2="103.10" stroke="#7f7f7f" stroke-width="1.3" />
<line x1="62.90" y1="59.80" x2="70.90" y2="59.80" stroke="#7f7f7f" stroke-width="1.3" />
<line x1="62.90" y1="103.10" x2="70.90" y2="103.10" stroke="#7f7f7f" stroke-width="1.3" />
<text x="60.10" y="82.20" font-size="10.9" text-anchor="middle" font-weight="normal" font-family="'DejaVu Sans', 'Liberation Sans', sans-serif" fill="#000" transform="rotate(-90 60.10 82.20)">0.05</text>
<text x="53.00" y="30.80" font-size="16.3" text-anchor="start" font-weight="bold" font-family="'Liberation Sans', Arial, sans-serif" fill="#000">A</text>
<line x1="227.50" y1="15.00" x2="247.00" y2="15.00" stroke="#1f77b4" stroke-width="1.6" />
<text x="253.80" y="18.70" font-size="9.05" text-anchor="start" font-weight="normal" font-family="'DejaVu Sans', 'Liberation Sans', sans-serif" fill="#000">Initial spectrum</text>
<line x1="227.50" y1="28.25" x2="247.00" y2="28.25" stroke="#ff7f0e" stroke-width="1.6" />
<text x="253.80" y="31.95" font-size="9.05" text-anchor="start" font-weight="normal" font-family="'DejaVu Sans', 'Liberation Sans', sans-serif" fill="#000">Transformed spectrum</text>
<line x1="227.50" y1="41.50" x2="247.00" y2="41.50" stroke="#2ca02c" stroke-width="1.6" />
<text x="253.80" y="45.20" font-size="9.05" text-anchor="start" font-weight="normal" font-family="'DejaVu Sans', 'Liberation Sans', sans-serif" fill="#000">Reduced noise, ×5</text>
<line x1="39.70" y1="388.28" x2="268.90" y2="265.43" stroke="#000" stroke-opacity="0.62" stroke-width="1.3" stroke-dasharray="1.3 2.16"/>
<line x1="50.12" y1="371.90" x2="50.12" y2="390.00" stroke="#1f77b4" stroke-width="1.4" />
<line x1="45.57" y1="371.90" x2="54.67" y2="371.90" stroke="#1f77b4" stroke-width="1.4" />
<line x1="45.57" y1="390.00" x2="54.67" y2="390.00" stroke="#1f77b4" stroke-width="1.4" />
<circle cx="50.12" cy="380.90" r="3.0" fill="#1f77b4" stroke="#1f77b4" stroke-width="0.91"/>
<line x1="91.79" y1="359.30" x2="91.79" y2="367.00" stroke="#1f77b4" stroke-width="1.4" />
<line x1="87.24" y1="359.30" x2="96.34" y2="359.30" stroke="#1f77b4" stroke-width="1.4" />
<line x1="87.24" y1="367.00" x2="96.34" y2="367.00" stroke="#1f77b4" stroke-width="1.4" />
<circle cx="91.79" cy="363.10" r="3.0" fill="#1f77b4" stroke="#1f77b4" stroke-width="0.91"/>
<line x1="154.30" y1="314.90" x2="154.30" y2="336.30" stroke="#1f77b4" stroke-width="1.4" />
<line x1="149.75" y1="314.90" x2="158.85" y2="314.90" stroke="#1f77b4" stroke-width="1.4" />
<line x1="149.75" y1="336.30" x2="158.85" y2="336.30" stroke="#1f77b4" stroke-width="1.4" />
<circle cx="154.30" cy="325.60" r="3.0" fill="#1f77b4" stroke="#1f77b4" stroke-width="0.91"/>
<line x1="258.48" y1="264.40" x2="258.48" y2="277.40" stroke="#1f77b4" stroke-width="1.4" />
<line x1="253.93" y1="264.40" x2="263.03" y2="264.40" stroke="#1f77b4" stroke-width="1.4" />
<line x1="253.93" y1="277.40" x2="263.03" y2="277.40" stroke="#1f77b4" stroke-width="1.4" />
<circle cx="258.48" cy="270.70" r="3.0" fill="#1f77b4" stroke="#1f77b4" stroke-width="0.91"/>
<rect x="39.7" y="250.8" width="229.20" height="147.50" fill="none" stroke="#000" stroke-width="0.85"/>
<line x1="50.12" y1="398.30" x2="50.12" y2="401.50" stroke="#000" stroke-width="0.85" />
<text x="50.12" y="412.00" font-size="9.1" text-anchor="middle" font-weight="normal" font-family="'DejaVu Sans', 'Liberation Sans', sans-serif" fill="#000">0.0</text>
<line x1="36.50" y1="386.55" x2="39.70" y2="386.55" stroke="#000" stroke-width="0.85" />
<text x="33.30" y="389.75" font-size="9.1" text-anchor="end" font-weight="normal" font-family="'DejaVu Sans', 'Liberation Sans', sans-serif" fill="#000">0.0</text>
<line x1="91.79" y1="398.30" x2="91.79" y2="401.50" stroke="#000" stroke-width="0.85" />
<text x="91.79" y="412.00" font-size="9.1" text-anchor="middle" font-weight="normal" font-family="'DejaVu Sans', 'Liberation Sans', sans-serif" fill="#000">0.1</text>
<line x1="36.50" y1="362.92" x2="39.70" y2="362.92" stroke="#000" stroke-width="0.85" />
<text x="33.30" y="366.12" font-size="9.1" text-anchor="end" font-weight="normal" font-family="'DejaVu Sans', 'Liberation Sans', sans-serif" fill="#000">0.1</text>
<line x1="133.46" y1="398.30" x2="133.46" y2="401.50" stroke="#000" stroke-width="0.85" />
<text x="133.46" y="412.00" font-size="9.1" text-anchor="middle" font-weight="normal" font-family="'DejaVu Sans', 'Liberation Sans', sans-serif" fill="#000">0.2</text>
<line x1="36.50" y1="339.29" x2="39.70" y2="339.29" stroke="#000" stroke-width="0.85" />
<text x="33.30" y="342.49" font-size="9.1" text-anchor="end" font-weight="normal" font-family="'DejaVu Sans', 'Liberation Sans', sans-serif" fill="#000">0.2</text>
<line x1="175.14" y1="398.30" x2="175.14" y2="401.50" stroke="#000" stroke-width="0.85" />
<text x="175.14" y="412.00" font-size="9.1" text-anchor="middle" font-weight="normal" font-family="'DejaVu Sans', 'Liberation Sans', sans-serif" fill="#000">0.3</text>
<line x1="36.50" y1="315.66" x2="39.70" y2="315.66" stroke="#000" stroke-width="0.85" />
<text x="33.30" y="318.86" font-size="9.1" text-anchor="end" font-weight="normal" font-family="'DejaVu Sans', 'Liberation Sans', sans-serif" fill="#000">0.3</text>
<line x1="216.81" y1="398.30" x2="216.81" y2="401.50" stroke="#000" stroke-width="0.85" />
<text x="216.81" y="412.00" font-size="9.1" text-anchor="middle" font-weight="normal" font-family="'DejaVu Sans', 'Liberation Sans', sans-serif" fill="#000">0.4</text>
<line x1="36.50" y1="292.03" x2="39.70" y2="292.03" stroke="#000" stroke-width="0.85" />
<text x="33.30" y="295.23" font-size="9.1" text-anchor="end" font-weight="normal" font-family="'DejaVu Sans', 'Liberation Sans', sans-serif" fill="#000">0.4</text>
<line x1="258.48" y1="398.30" x2="258.48" y2="401.50" stroke="#000" stroke-width="0.85" />
<text x="258.48" y="412.00" font-size="9.1" text-anchor="middle" font-weight="normal" font-family="'DejaVu Sans', 'Liberation Sans', sans-serif" fill="#000">0.5</text>
<line x1="36.50" y1="268.40" x2="39.70" y2="268.40" stroke="#000" stroke-width="0.85" />
<text x="33.30" y="271.60" font-size="9.1" text-anchor="end" font-weight="normal" font-family="'DejaVu Sans', 'Liberation Sans', sans-serif" fill="#000">0.5</text>
<text x="154.30" y="424.90" font-size="10.9" text-anchor="middle" font-weight="normal" font-family="'DejaVu Sans', 'Liberation Sans', sans-serif" fill="#000">True amount of HA, %</text>
<text x="155.10" y="245.30" font-size="10.9" text-anchor="middle" font-weight="normal" font-family="'DejaVu Sans', 'Liberation Sans', sans-serif" fill="#000">Random Forest Regressor</text>
<text x="53.40" y="278.60" font-size="16.3" text-anchor="start" font-weight="bold" font-family="'Liberation Sans', Arial, sans-serif" fill="#000">B</text>
<text x="12.90" y="324.50" font-size="10.9" text-anchor="middle" font-weight="normal" font-family="'DejaVu Sans', 'Liberation Sans', sans-serif" fill="#000" transform="rotate(-90 12.90 324.50)">Predicted amount of HA, %</text>
<line x1="314.80" y1="386.54" x2="543.90" y2="269.69" stroke="#000" stroke-opacity="0.62" stroke-width="1.3" stroke-dasharray="1.3 2.16"/>
<line x1="325.21" y1="377.40" x2="325.21" y2="388.60" stroke="#1f77b4" stroke-width="1.4" />
<line x1="320.66" y1="377.40" x2="329.76" y2="377.40" stroke="#1f77b4" stroke-width="1.4" />
<line x1="320.66" y1="388.60" x2="329.76" y2="388.60" stroke="#1f77b4" stroke-width="1.4" />
<circle cx="325.21" cy="382.80" r="3.0" fill="#1f77b4" stroke="#1f77b4" stroke-width="0.91"/>
<line x1="366.87" y1="359.70" x2="366.87" y2="367.40" stroke="#1f77b4" stroke-width="1.4" />
<line x1="362.32" y1="359.70" x2="371.42" y2="359.70" stroke="#1f77b4" stroke-width="1.4" />
<line x1="362.32" y1="367.40" x2="371.42" y2="367.40" stroke="#1f77b4" stroke-width="1.4" />
<circle cx="366.87" cy="364.00" r="3.0" fill="#1f77b4" stroke="#1f77b4" stroke-width="0.91"/>
<line x1="429.35" y1="316.60" x2="429.35" y2="335.30" stroke="#1f77b4" stroke-width="1.4" />
<line x1="424.80" y1="316.60" x2="433.90" y2="316.60" stroke="#1f77b4" stroke-width="1.4" />
<line x1="424.80" y1="335.30" x2="433.90" y2="335.30" stroke="#1f77b4" stroke-width="1.4" />
<circle cx="429.35" cy="326.00" r="3.0" fill="#1f77b4" stroke="#1f77b4" stroke-width="0.91"/>
<line x1="533.49" y1="264.50" x2="533.49" y2="276.20" stroke="#1f77b4" stroke-width="1.4" />
<line x1="528.94" y1="264.50" x2="538.04" y2="264.50" stroke="#1f77b4" stroke-width="1.4" />
<line x1="528.94" y1="276.20" x2="538.04" y2="276.20" stroke="#1f77b4" stroke-width="1.4" />
<circle cx="533.49" cy="269.90" r="3.0" fill="#1f77b4" stroke="#1f77b4" stroke-width="0.91"/>
<rect x="314.8" y="250.8" width="229.10" height="147.50" fill="none" stroke="#000" stroke-width="0.85"/>
<line x1="325.21" y1="398.30" x2="325.21" y2="401.50" stroke="#000" stroke-width="0.85" />
<text x="325.21" y="412.00" font-size="9.1" text-anchor="middle" font-weight="normal" font-family="'DejaVu Sans', 'Liberation Sans', sans-serif" fill="#000">0.0</text>
<line x1="311.60" y1="386.55" x2="314.80" y2="386.55" stroke="#000" stroke-width="0.85" />
<line x1="366.87" y1="398.30" x2="366.87" y2="401.50" stroke="#000" stroke-width="0.85" />
<text x="366.87" y="412.00" font-size="9.1" text-anchor="middle" font-weight="normal" font-family="'DejaVu Sans', 'Liberation Sans', sans-serif" fill="#000">0.1</text>
<line x1="311.60" y1="362.92" x2="314.80" y2="362.92" stroke="#000" stroke-width="0.85" />
<line x1="408.52" y1="398.30" x2="408.52" y2="401.50" stroke="#000" stroke-width="0.85" />
<text x="408.52" y="412.00" font-size="9.1" text-anchor="middle" font-weight="normal" font-family="'DejaVu Sans', 'Liberation Sans', sans-serif" fill="#000">0.2</text>
<line x1="311.60" y1="339.29" x2="314.80" y2="339.29" stroke="#000" stroke-width="0.85" />
<line x1="450.18" y1="398.30" x2="450.18" y2="401.50" stroke="#000" stroke-width="0.85" />
<text x="450.18" y="412.00" font-size="9.1" text-anchor="middle" font-weight="normal" font-family="'DejaVu Sans', 'Liberation Sans', sans-serif" fill="#000">0.3</text>
<line x1="311.60" y1="315.66" x2="314.80" y2="315.66" stroke="#000" stroke-width="0.85" />
<line x1="491.83" y1="398.30" x2="491.83" y2="401.50" stroke="#000" stroke-width="0.85" />
<text x="491.83" y="412.00" font-size="9.1" text-anchor="middle" font-weight="normal" font-family="'DejaVu Sans', 'Liberation Sans', sans-serif" fill="#000">0.4</text>
<line x1="311.60" y1="292.03" x2="314.80" y2="292.03" stroke="#000" stroke-width="0.85" />
<line x1="533.49" y1="398.30" x2="533.49" y2="401.50" stroke="#000" stroke-width="0.85" />
<text x="533.49" y="412.00" font-size="9.1" text-anchor="middle" font-weight="normal" font-family="'DejaVu Sans', 'Liberation Sans', sans-serif" fill="#000">0.5</text>
<line x1="311.60" y1="268.40" x2="314.80" y2="268.40" stroke="#000" stroke-width="0.85" />
<text x="429.35" y="424.90" font-size="10.9" text-anchor="middle" font-weight="normal" font-family="'DejaVu Sans', 'Liberation Sans', sans-serif" fill="#000">True amount of HA, %</text>
<text x="430.15" y="245.30" font-size="10.9" text-anchor="middle" font-weight="normal" font-family="'DejaVu Sans', 'Liberation Sans', sans-serif" fill="#000">Gradient Boosting Regressor</text>
<text x="328.50" y="278.60" font-size="16.3" text-anchor="start" font-weight="bold" font-family="'Liberation Sans', Arial, sans-serif" fill="#000">C</text>
<text x="135.20" y="303.10" font-size="9.1" text-anchor="middle" font-weight="normal" font-family="'DejaVu Sans', 'Liberation Sans', sans-serif" fill="#000" transform="rotate(-25.0 135.20 303.10)">y = 0.947x + 0.016</text>
<text x="135.70" y="318.20" font-size="9.1" text-anchor="middle" font-family="'DejaVu Sans', 'Liberation Sans', sans-serif" transform="rotate(-25.0 135.70 318.20)">R<tspan font-size="6.4" dy="-3.6">2</tspan><tspan dy="3.6">=0.963</tspan></text>
<text x="410.20" y="303.10" font-size="9.1" text-anchor="middle" font-weight="normal" font-family="'DejaVu Sans', 'Liberation Sans', sans-serif" fill="#000" transform="rotate(-25.0 410.20 303.10)">y = 0.966x + 0.009</text>
<text x="410.70" y="318.20" font-size="9.1" text-anchor="middle" font-family="'DejaVu Sans', 'Liberation Sans', sans-serif" transform="rotate(-25.0 410.70 318.20)">R<tspan font-size="6.4" dy="-3.6">2</tspan><tspan dy="3.6">=0.976</tspan></text></svg></body></html>
